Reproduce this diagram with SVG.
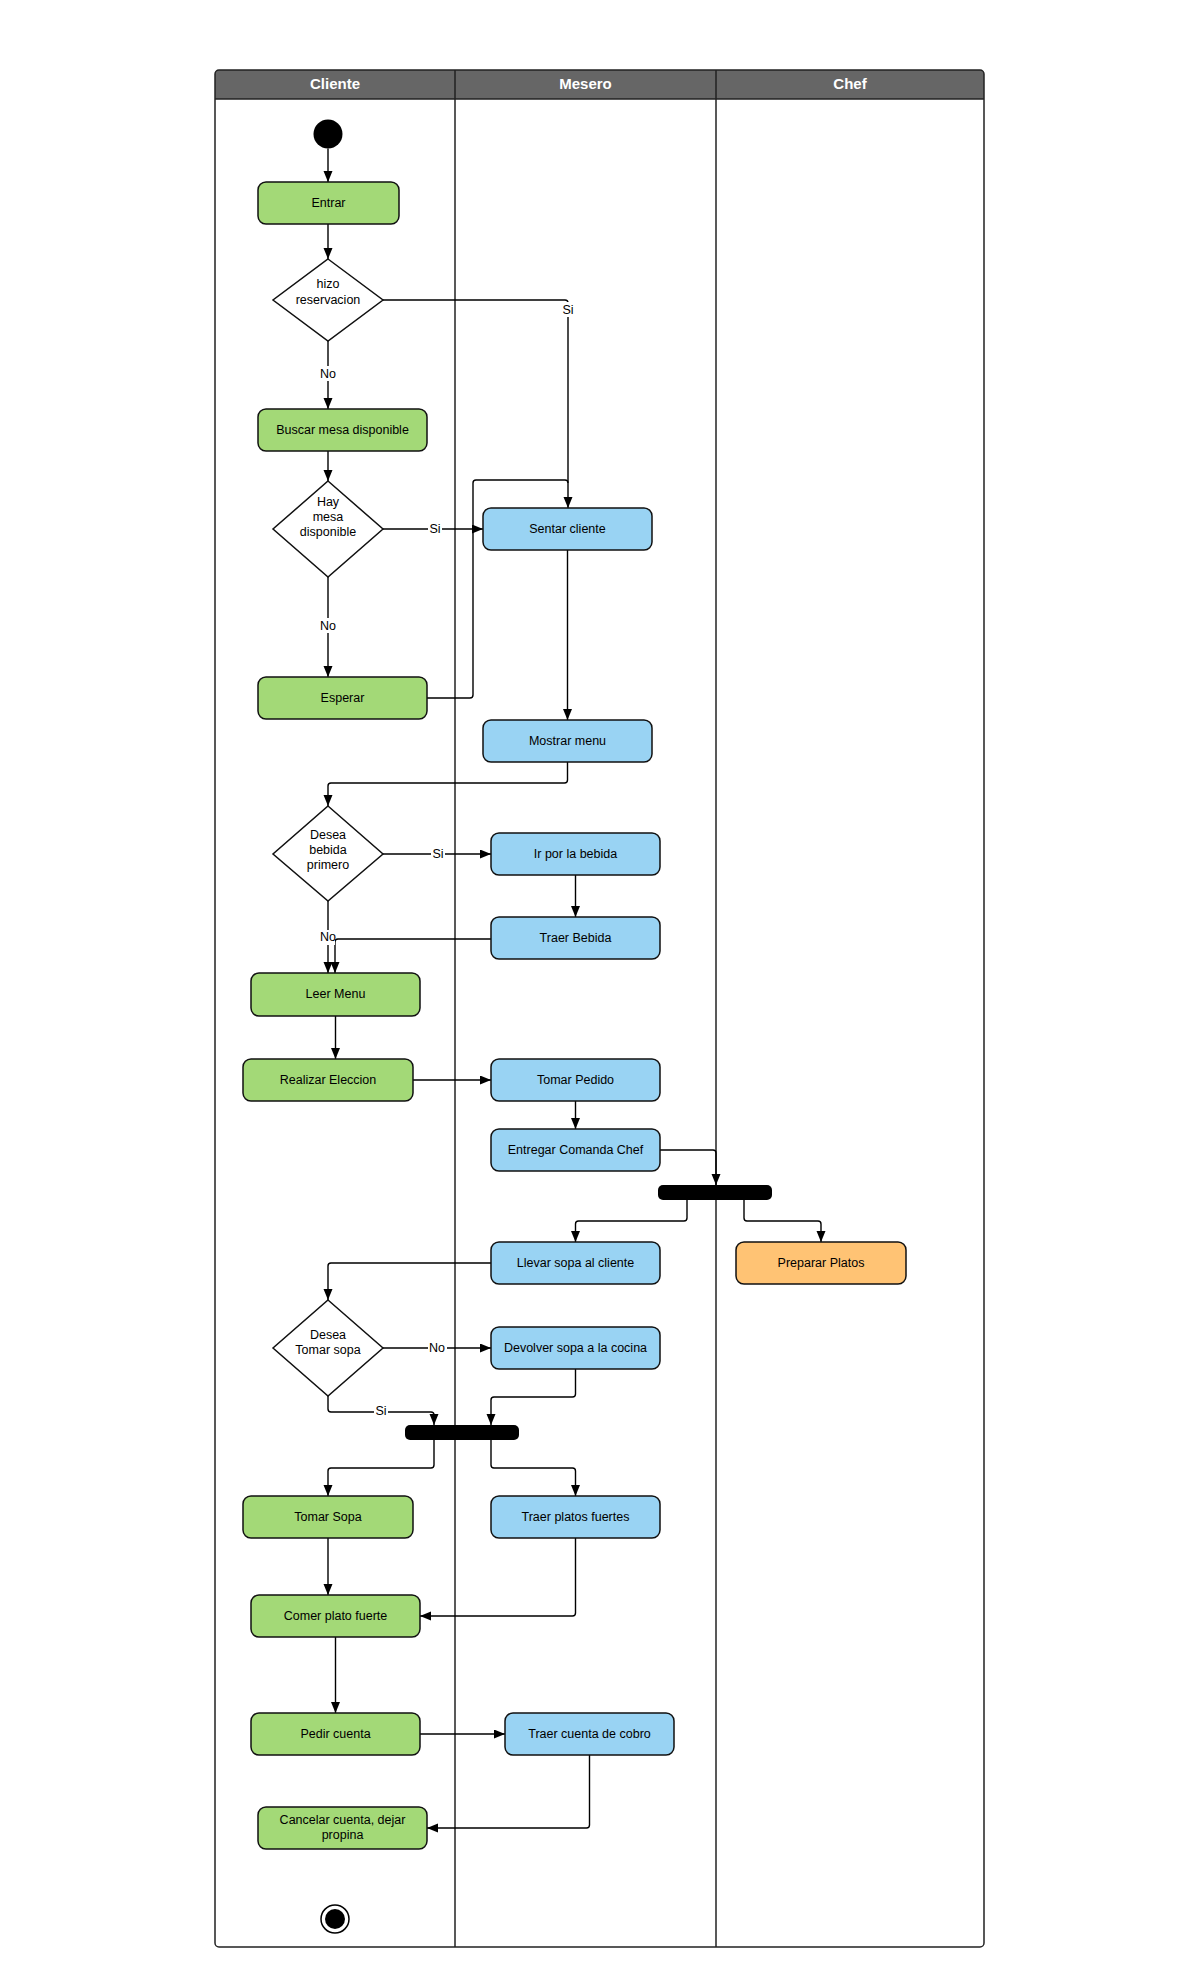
<svg xmlns="http://www.w3.org/2000/svg" width="1200" height="1976" viewBox="0 0 1200 1976">
<style>
text{font-family:"Liberation Sans",Arial,sans-serif;font-size:12.5px;fill:#000;text-anchor:middle;dominant-baseline:central}
.hdrt{font-size:15px;font-weight:bold;fill:#fff}
.act{stroke:#111;stroke-width:1.5}
.g{fill:#a3d977}
.b{fill:#99d3f3}
.o{fill:#ffc374}
.dec{fill:#fff;stroke:#111;stroke-width:1.5}
.bar{fill:#000}
.c{fill:none;stroke:#000;stroke-width:1.4}
.a{marker-end:url(#arr)}
.lbl{fill:#fff}
.lane{fill:none;stroke:#222;stroke-width:1.5}
</style>
<defs>
<marker id="arr" markerUnits="userSpaceOnUse" markerWidth="12" markerHeight="10" refX="11" refY="4.5" orient="auto">
<path d="M0,0 L11,4.5 L0,9 z" fill="#000"/>
</marker>
</defs>
<rect width="1200" height="1976" fill="#fff"/>
<g id="pool">
<path d="M215,99 V74 a4,4 0 0 1 4,-4 H980 a4,4 0 0 1 4,4 V99 z" fill="#666"/>
<rect class="lane" x="215" y="70" width="769" height="1877" rx="4"/>
<line class="lane" x1="215" y1="99" x2="984" y2="99" stroke="#444"/>
<line class="lane" x1="455" y1="70" x2="455" y2="1947"/>
<line class="lane" x1="716" y1="70" x2="716" y2="1947"/>
<text class="hdrt" x="335" y="83">Cliente</text>
<text class="hdrt" x="585.5" y="83">Mesero</text>
<text class="hdrt" x="850" y="83">Chef</text>
</g>
<g id="connectors">
<path class="c a" d="M328,148.5 V182"/>
<path class="c a" d="M328,224 V259"/>
<path class="c a" d="M328,341 V409"/>
<path class="c a" d="M383,300 H565 q3,0 3,3 V508"/>
<path class="c a" d="M328,451 V481"/>
<path class="c a" d="M383,529 H483"/>
<path class="c a" d="M328,577 V677"/>
<path class="c" d="M427,698 H470 q3,0 3,-3 V483 q0,-3 3,-3 H565 q3,0 3,3"/>
<path class="c a" d="M567.5,550 V720"/>
<path class="c a" d="M567.5,762 V780 q0,3 -3,3 H331 q-3,0 -3,3 V806"/>
<path class="c a" d="M383,854 H491"/>
<path class="c a" d="M575.5,875 V917"/>
<path class="c a" d="M328,901 V973"/>
<path class="c a" d="M491,939 H338 q-3,0 -3,3 V973"/>
<path class="c a" d="M335.5,1016 V1059"/>
<path class="c a" d="M413,1080 H491"/>
<path class="c a" d="M575.5,1101 V1129"/>
<path class="c a" d="M660,1150 H713 q3,0 3,3 V1185"/>
<path class="c a" d="M687,1200 V1218 q0,3 -3,3 H578.5 q-3,0 -3,3 V1242"/>
<path class="c a" d="M744,1200 V1218 q0,3 3,3 H818 q3,0 3,3 V1242"/>
<path class="c a" d="M491,1263 H331 q-3,0 -3,3 V1300"/>
<path class="c a" d="M383,1348 H491"/>
<path class="c a" d="M328,1396 V1409 q0,3 3,3 H431 q3,0 3,3 V1425"/>
<path class="c a" d="M575.5,1369 V1394 q0,3 -3,3 H494 q-3,0 -3,3 V1425"/>
<path class="c a" d="M434,1440 V1465 q0,3 -3,3 H331 q-3,0 -3,3 V1496"/>
<path class="c a" d="M491,1440 V1465 q0,3 3,3 H572.5 q3,0 3,3 V1496"/>
<path class="c a" d="M328,1538 V1595"/>
<path class="c a" d="M575.5,1538 V1613 q0,3 -3,3 H420"/>
<path class="c a" d="M335.5,1637 V1713"/>
<path class="c a" d="M420,1734 H505"/>
<path class="c a" d="M589.5,1755 V1825 q0,3 -3,3 H427"/>
<g id="labels">
<rect class="lbl" x="318" y="366" width="20" height="15"/><text x="328" y="374">No</text>
<rect class="lbl" x="561" y="302" width="14" height="15"/><text x="568" y="310">Si</text>
<rect class="lbl" x="428" y="522" width="14" height="14"/><text x="435" y="529">Si</text>
<rect class="lbl" x="318" y="618" width="20" height="15"/><text x="328" y="626">No</text>
<rect class="lbl" x="431" y="847" width="14" height="14"/><text x="438" y="854">Si</text>
<rect class="lbl" x="318" y="930" width="17" height="15"/><text x="328" y="937">No</text>
<rect class="lbl" x="428" y="1341" width="19" height="14"/><text x="437" y="1348">No</text>
<rect class="lbl" x="374" y="1404" width="14" height="14"/><text x="381" y="1411">Si</text>
</g>
</g>
<g id="start"><circle cx="328" cy="134" r="14.5" fill="#000"/></g>
<g id="entrar"><rect class="act g" x="258" y="182" width="141" height="42" rx="8"/><text x="328.5" y="203">Entrar</text></g>
<g id="hizo-reservacion"><polygon class="dec" points="328,259 383,300 328,341 273,300"/><text x="328" y="284">hizo</text><text x="328" y="300">reservacion</text></g>
<g id="buscar-mesa"><rect class="act g" x="258" y="409" width="169" height="42" rx="8"/><text x="342.5" y="430">Buscar mesa disponible</text></g>
<g id="hay-mesa"><polygon class="dec" points="328,481 383,529 328,577 273,529"/><text x="328" y="502">Hay</text><text x="328" y="517">mesa</text><text x="328" y="532">disponible</text></g>
<g id="sentar-cliente"><rect class="act b" x="483" y="508" width="169" height="42" rx="8"/><text x="567.5" y="529">Sentar cliente</text></g>
<g id="esperar"><rect class="act g" x="258" y="677" width="169" height="42" rx="8"/><text x="342.5" y="698">Esperar</text></g>
<g id="mostrar-menu"><rect class="act b" x="483" y="720" width="169" height="42" rx="8"/><text x="567.5" y="741">Mostrar menu</text></g>
<g id="desea-bebida"><polygon class="dec" points="328,806 383,854 328,901 273,854"/><text x="328" y="835">Desea</text><text x="328" y="850">bebida</text><text x="328" y="865">primero</text></g>
<g id="ir-bebida"><rect class="act b" x="491" y="833" width="169" height="42" rx="8"/><text x="575.5" y="854">Ir por la bebida</text></g>
<g id="traer-bebida"><rect class="act b" x="491" y="917" width="169" height="42" rx="8"/><text x="575.5" y="938">Traer Bebida</text></g>
<g id="leer-menu"><rect class="act g" x="251" y="973" width="169" height="43" rx="8"/><text x="335.5" y="994">Leer Menu</text></g>
<g id="realizar-eleccion"><rect class="act g" x="243" y="1059" width="170" height="42" rx="8"/><text x="328" y="1080">Realizar Eleccion</text></g>
<g id="tomar-pedido"><rect class="act b" x="491" y="1059" width="169" height="42" rx="8"/><text x="575.5" y="1080">Tomar Pedido</text></g>
<g id="entregar-comanda"><rect class="act b" x="491" y="1129" width="169" height="42" rx="8"/><text x="575.5" y="1150">Entregar Comanda Chef</text></g>
<g id="fork"><rect class="bar" x="658" y="1185" width="114" height="15" rx="5"/></g>
<g id="llevar-sopa"><rect class="act b" x="491" y="1242" width="169" height="42" rx="8"/><text x="575.5" y="1263">Llevar sopa al cliente</text></g>
<g id="preparar-platos"><rect class="act o" x="736" y="1242" width="170" height="42" rx="8"/><text x="821" y="1263">Preparar Platos</text></g>
<g id="desea-sopa"><polygon class="dec" points="328,1300 383,1348 328,1396 273,1348"/><text x="328" y="1335">Desea</text><text x="328" y="1350">Tomar sopa</text></g>
<g id="devolver-sopa"><rect class="act b" x="491" y="1327" width="169" height="42" rx="8"/><text x="575.5" y="1348">Devolver sopa a la cocina</text></g>
<g id="join"><rect class="bar" x="405" y="1425" width="114" height="15" rx="5"/></g>
<g id="tomar-sopa"><rect class="act g" x="243" y="1496" width="170" height="42" rx="8"/><text x="328" y="1517">Tomar Sopa</text></g>
<g id="traer-platos"><rect class="act b" x="491" y="1496" width="169" height="42" rx="8"/><text x="575.5" y="1517">Traer platos fuertes</text></g>
<g id="comer-plato"><rect class="act g" x="251" y="1595" width="169" height="42" rx="8"/><text x="335.5" y="1616">Comer plato fuerte</text></g>
<g id="pedir-cuenta"><rect class="act g" x="251" y="1713" width="169" height="42" rx="8"/><text x="335.5" y="1734">Pedir cuenta</text></g>
<g id="traer-cuenta"><rect class="act b" x="505" y="1713" width="169" height="42" rx="8"/><text x="589.5" y="1734">Traer cuenta de cobro</text></g>
<g id="cancelar-cuenta"><rect class="act g" x="258" y="1807" width="169" height="42" rx="8"/><text x="342.5" y="1820">Cancelar cuenta, dejar</text><text x="342.5" y="1835">propina</text></g>
<g id="end"><circle cx="335" cy="1919" r="14" fill="#fff" stroke="#000" stroke-width="1.5"/><circle cx="335" cy="1919" r="10" fill="#000"/></g>
</svg>
